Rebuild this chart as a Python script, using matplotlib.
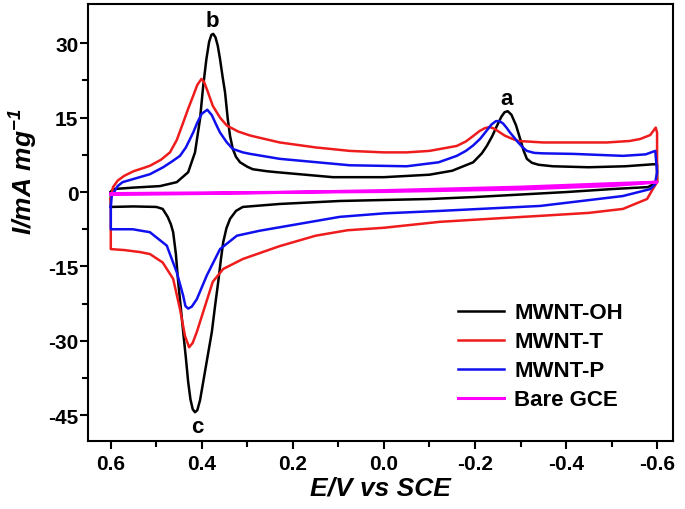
import numpy as np
import matplotlib
matplotlib.use('Agg')
import matplotlib.pyplot as plt

plt.rcParams['font.family'] = ['Liberation Sans', 'DejaVu Sans']
plt.rcParams['font.weight'] = 'bold'
plt.rcParams['axes.unicode_minus'] = False
plt.rcParams['mathtext.fontset'] = 'custom'
plt.rcParams['mathtext.bfit'] = 'Liberation Sans:italic:bold'
plt.rcParams['mathtext.it'] = 'Liberation Sans:italic:bold'
plt.rcParams['mathtext.rm'] = 'Liberation Sans:bold'

# MWNT-OH (negro): rama superior (0.6 -> -0.6) y rama inferior (vuelta)
oh_up_x = [0.600, 0.595, 0.55, 0.492, 0.455, 0.43, 0.415, 0.404, 0.397, 0.39, 0.384, 0.379, 0.375,
           0.37, 0.365, 0.36, 0.354, 0.349, 0.343, 0.338, 0.332, 0.325, 0.316, 0.30, 0.288, 0.257,
           0.235, 0.112, 0.0, -0.10, -0.15, -0.196, -0.215, -0.226, -0.238, -0.248, -0.258, -0.265,
           -0.272, -0.28, -0.29, -0.30, -0.307, -0.314, -0.325, -0.34, -0.371, -0.45, -0.53, -0.591,
           -0.60]
oh_up_y = [0.0, 0.6, 0.9, 1.2, 2.0, 4.0, 8.0, 14.7, 21.4, 26.8, 30.3, 31.7, 31.9,
           31.2, 29.5, 26.8, 23, 20.1, 14.7, 11.3, 8.7, 7.1, 6, 5.1, 4.6, 4.2,
           4.0, 3.0, 3.0, 3.5, 4.3, 6, 7.8, 9.3, 11.3, 13.3, 15.2, 16.1,
           16.3, 15.6, 13.5, 10.5, 8.3, 6.7, 5.9, 5.5, 5.2, 5.0, 5.2, 5.6,
           5.6]
oh_dn_x = [-0.60, -0.58, -0.50, -0.40, -0.30, -0.20, -0.10, 0.0, 0.097, 0.229, 0.31, 0.325, 0.338,
           0.346, 0.353, 0.358, 0.364, 0.371, 0.378, 0.388, 0.397, 0.404, 0.41, 0.415, 0.42, 0.425,
           0.43, 0.435, 0.441, 0.446, 0.452, 0.457, 0.463, 0.468, 0.475, 0.486, 0.50, 0.55, 0.60, 0.60]
oh_dn_y = [2.0, 1.0, 0.6, 0.0, -0.5, -1.0, -1.4, -1.6, -1.8, -2.4, -3.0, -3.8, -5.4,
           -7.3, -10.1, -13.5, -18.1, -23, -28.2, -33.5, -38.3, -42, -44, -44.4, -43.8, -41.8,
           -38.3, -33.5, -28.2, -23.5, -18.1, -12.5, -8.1, -6.5, -5, -3.4, -3.0, -2.9, -3.0, 0.0]

# MWNT-T (rojo)
t_up_x = [0.600, 0.595, 0.585, 0.57, 0.55, 0.53, 0.514, 0.49, 0.47, 0.455, 0.441, 0.43, 0.419, 0.41,
          0.401, 0.395, 0.388, 0.376, 0.36, 0.345, 0.32, 0.294, 0.229, 0.15, 0.075, 0.0, -0.05, -0.10,
          -0.16, -0.18, -0.196, -0.21, -0.222, -0.232, -0.242, -0.252, -0.265, -0.28, -0.295, -0.35,
          -0.415, -0.49, -0.54, -0.563, -0.585, -0.597, -0.60]
t_up_y = [-1.4, 1.0, 2.3, 3.3, 4.2, 4.8, 5.3, 6.5, 8, 10.5, 14, 16.8, 19.4, 21.6,
          22.8, 22.2, 20.5, 17.4, 15, 13.4, 12.2, 11.4, 10, 9, 8.3, 8.0, 8, 8.3,
          9.3, 10.2, 11.3, 12.3, 12.9, 13.1, 12.8, 12.2, 11.4, 10.8, 10.3, 10,
          10, 10, 10.3, 10.7, 11.5, 13, 12]
t_dn_x = [-0.60, -0.59, -0.578, -0.525, -0.45, -0.343, -0.25, -0.123, 0.0, 0.08, 0.15, 0.229, 0.31,
          0.353, 0.376, 0.393, 0.411, 0.42, 0.428, 0.437, 0.448, 0.463, 0.486, 0.514, 0.536, 0.57,
          0.60, 0.60]
t_dn_y = [2.0, 0.5, -1.4, -3.4, -4.2, -4.8, -5.3, -6, -7.2, -7.7, -8.8, -10.9, -13.5,
          -15.5, -18.1, -23, -28.2, -30.4, -31.3, -29, -23.6, -17.5, -14.2, -12.5, -12.1, -11.7,
          -11.5, -1.4]

# MWNT-P (azul)
p_up_x = [0.600, 0.598, 0.585, 0.574, 0.514, 0.485, 0.465, 0.448, 0.435, 0.419, 0.41, 0.40, 0.388,
          0.378, 0.368, 0.36, 0.345, 0.332, 0.31, 0.294, 0.229, 0.075, -0.05, -0.12, -0.16, -0.18,
          -0.196, -0.211, -0.225, -0.236, -0.246, -0.254, -0.262, -0.27, -0.277, -0.286, -0.295,
          -0.305, -0.314, -0.33, -0.35, -0.415, -0.525, -0.575, -0.596, -0.60]
p_up_y = [-3, -0.8, 1.2, 2, 3.6, 5, 6.2, 7.3, 9, 12, 14, 15.8, 16.6,
          15.5, 13.5, 12, 10, 8.7, 8, 7.7, 6.7, 5.4, 5.2, 6, 7.3, 8.3,
          9.4, 10.7, 12.3, 13.6, 14.3, 14.3, 13.8, 12.9, 12, 11, 10,
          9, 8.3, 7.9, 7.8, 7.7, 7.3, 7.6, 8.3, 4]
p_dn_x = [-0.595, -0.585, -0.525, -0.343, -0.123, 0.0, 0.097, 0.229, 0.273, 0.323, 0.36, 0.389, 0.411,
          0.422, 0.43, 0.436, 0.441, 0.455, 0.477, 0.514, 0.552, 0.60, 0.60]
p_dn_y = [1.5, 0.6, -0.8, -2.8, -3.8, -4.3, -5, -7.1, -7.8, -8.8, -11.5, -16.8, -21.6,
          -23.1, -23.5, -23, -20.9, -16.2, -10.8, -8.1, -7.5, -7.5, -3]

# Bare GCE (magenta), casi plano
gce_x = [0.60, 0.30, 0.0, -0.30, -0.50, -0.60, -0.50, -0.30, 0.0, 0.30, 0.60]
gce_y = [-0.3, -0.1, 0.1, 0.6, 1.3, 2.0, 1.7, 1.0, 0.3, -0.2, -0.5]

etiquetas = ['MWNT-OH', 'MWNT-T', 'MWNT-P', 'Bare GCE']
colores = ['black', '#ee1c1c', '#1010ee', '#ff00ff']

fig = plt.figure(figsize=(6.85, 5.10), dpi=100)
ax = fig.add_axes([0.1285, 0.1333, 0.854, 0.8567])

ax.plot(oh_up_x + oh_dn_x, oh_up_y + oh_dn_y, color=colores[0], lw=1.8, label=etiquetas[0])
ax.plot(t_up_x + t_dn_x, t_up_y + t_dn_y, color=colores[1], lw=1.8, label=etiquetas[1])
ax.plot(p_up_x + p_dn_x, p_up_y + p_dn_y, color=colores[2], lw=1.8, label=etiquetas[2])
ax.plot(gce_x, gce_y, color=colores[3], lw=2.2, label=etiquetas[3])

# letras de los picos
ax.text(0.376, 34.5, 'b', fontsize=16, ha='center', va='center')
ax.text(-0.27, 18.9, 'a', fontsize=16, ha='center', va='center')
ax.text(0.411, -47.3, 'c', fontsize=16, ha='center', va='center')

ax.set_xlim(0.65, -0.635)
ax.set_ylim(-50.2, 37.9)
ax.set_xticks([0.6, 0.4, 0.2, 0.0, -0.2, -0.4, -0.6])
ax.set_xticks([0.5, 0.3, 0.1, -0.1, -0.3, -0.5], minor=True)
ax.set_yticks([-45, -30, -15, 0, 15, 30])
ax.set_yticks([-37.5, -22.5, -7.5, 7.5, 22.5], minor=True)
ax.tick_params(which='both', direction='out', width=1.5, top=False, right=False, labelsize=15)
ax.tick_params(which='major', length=6)
ax.tick_params(which='minor', length=4)
ax.tick_params(axis='y', pad=1)
for s in ax.spines.values():
    s.set_linewidth(1.5)

ax.set_xlabel('E/V vs SCE', fontsize=19, fontstyle='italic', fontweight='bold', labelpad=2)
ax.set_ylabel(r'$\mathbfit{I/mA\ mg^{-1}}$', fontsize=19)
ax.yaxis.set_label_coords(-0.082, 0.618)

ax.legend(loc='lower right', bbox_to_anchor=(0.93, 0.05), frameon=False, fontsize=16,
          handlelength=2.1, handletextpad=0.45, labelspacing=0.36, borderaxespad=0)

fig.savefig('out.png', dpi=100)
